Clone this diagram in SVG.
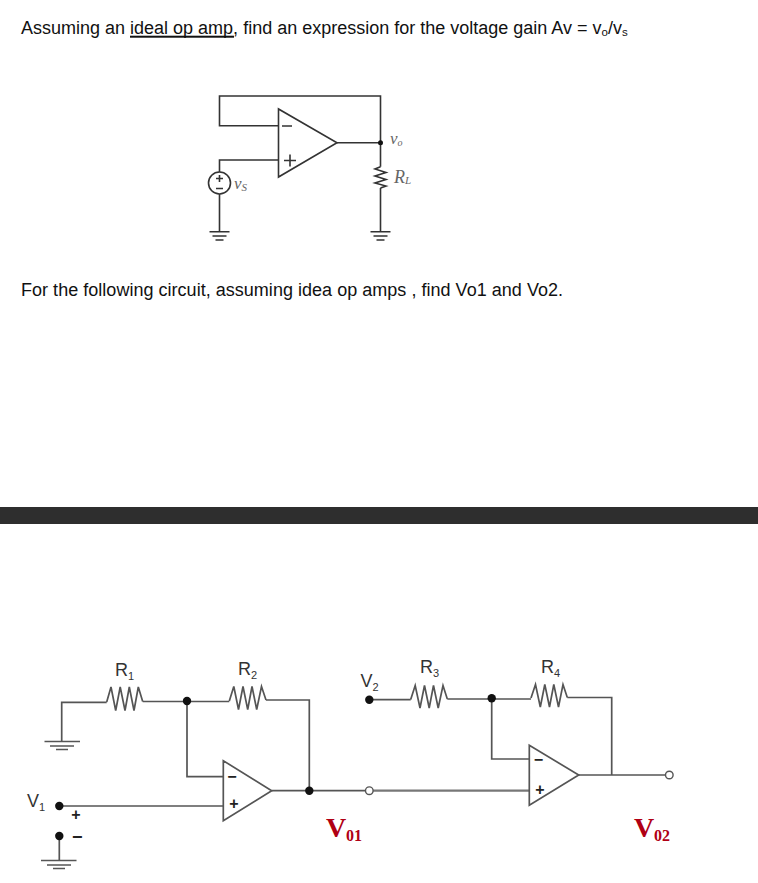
<svg xmlns="http://www.w3.org/2000/svg" width="758" height="883" viewBox="0 0 758 883">
<style>
.t{font-family:"Liberation Sans",Arial,sans-serif;font-size:18px;fill:#111}
.w{fill:none;stroke:#333;stroke-width:1.6;stroke-linejoin:miter}
.w2{fill:none;stroke:#555;stroke-width:1.7}
.m{font-family:"Liberation Serif",serif;font-style:italic;fill:#666}
.l{font-family:"Liberation Sans",Arial,sans-serif;fill:#333;font-size:18px}
.s{font-size:11px}
.r{font-family:"Liberation Serif",serif;font-weight:bold;fill:#b00014;font-size:28px}
.r2{font-size:16px}
.p{font-family:"Liberation Sans",Arial,sans-serif;font-weight:bold;fill:#222;font-size:16px;text-anchor:middle}
.d{fill:#111}
.o{fill:#fff;stroke:#555;stroke-width:1.4}
</style>
<rect width="758" height="883" fill="#fff"/>
<g id="text-1"><text class="t" x="21" y="34">Assuming an ideal op amp, find an expression for the voltage gain Av = v<tspan font-size="11.500" dy="2">o</tspan><tspan dy="-2">/v</tspan><tspan font-size="11.500" dy="2">s</tspan></text><rect x="130" y="35.700" width="104" height="2" fill="#111"/></g>
<g id="text-2"><text class="t" x="21" y="296" textLength="542" lengthAdjust="spacing">For the following circuit, assuming idea op amps , find Vo1 and Vo2.</text></g>
<rect id="band" x="0" y="507" width="758" height="17" fill="#2e2e2e"/>

<g id="connectors">
<path class="w" d="M278.500 125.700H219.500V96H380.500V142.700M337 142.700H380.500V166.700M380.500 188V231.700M278.500 160H219.500V172M219.500 194V231.700"/>
<path class="w2" d="M61.700 741V702.300H106.700M142.700 701.500H229.300M266 700H309.300V790.700M187 701V776.700H223.300M59.300 806H223.300M59.300 836V860M271.700 790.700H369.300M369.300 699.700H410.700M447.300 699H531M567.300 697.500H611.700V775M491.700 698.300V759H529.300M578.700 775H669.300"/>
<path d="M369.300 790.700H529.300" fill="none" stroke="#777" stroke-width="2.200"/>
</g>

<g id="opamp-a"><path class="w" d="M278.500 109V177L337 142.700Z" fill="#fff"/><path class="w" d="M282 126H292M284 160.500H296M290 154.500V166.500"/></g>
<g id="node-vo"><circle class="d" cx="380.500" cy="142.700" r="2.500"/><text class="m" x="390" y="144" font-size="17">v<tspan font-size="10" dy="2">o</tspan></text></g>
<g id="source-vs"><circle class="w" cx="219.500" cy="183" r="11"/><path class="w" d="M216 178.500H223M219.500 175V182M216 188.500H223" stroke-width="1.200"/><text class="m" x="234" y="189" font-size="17">v<tspan font-size="11" dy="2">S</tspan></text></g>
<g id="rl"><path class="w" d="M380.500 166.700L375 169L386 172.500L375 176L386 179.500L375 183L386 186L380.500 188"/><text class="m" x="394" y="183" font-size="18">R<tspan font-size="11" dy="1">L</tspan></text></g>
<g id="gnd-a"><path class="w" d="M209.500 231.700H229.500M212.500 236H226.500M215.500 240H223.500"/></g>
<g id="gnd-b"><path class="w" d="M370.500 231.700H390.500M373.500 236H387.500M376.500 240H384.500"/></g>

<g id="r1"><path class="w2" d="M106.700 702L111 687L115.700 710.500L120.200 687L125 710.500L129.300 687L134 710.500L138.300 687L142.700 701.500"/><text class="l" x="115" y="676">R<tspan class="s" dy="4">1</tspan></text></g>
<g id="r2"><path class="w2" d="M229.300 701L233.800 686.500L238.500 709.500L243 686.500L247.700 709.500L252 686.500L256.700 709.500L261.500 686.500L266 700"/><text class="l" x="238" y="675">R<tspan class="s" dy="4">2</tspan></text></g>
<g id="r3"><path class="w2" d="M410.700 699.500L415.200 685.500L420 708L424.500 685.500L429.200 708L433.500 685.500L438.200 708L443 685.500L447.300 699"/><text class="l" x="420" y="673">R<tspan class="s" dy="4">3</tspan></text></g>
<g id="r4"><path class="w2" d="M531 698L535.500 684.500L540.300 707L544.800 684.500L549.500 707L553.800 684.500L558.500 707L563 684.500L567.300 697.500"/><text class="l" x="541" y="673">R<tspan class="s" dy="4">4</tspan></text></g>

<g id="gnd-c"><path class="w2" d="M44.500 741.500H80M50 746H74M56 749.500H68" stroke-width="2"/></g>
<g id="gnd-d"><path class="w2" d="M41 860.500H76.500M47 865H71M53 868.500H65" stroke-width="2"/></g>

<g id="opamp-1"><path class="w2" d="M223.300 760.700V820.700L271.700 790.700Z" fill="#fff"/><text class="p" x="232" y="781.500">−</text><text class="p" x="234" y="808.500">+</text></g>
<g id="opamp-2"><path class="w2" d="M529.300 745.300V805.300L578.700 775Z" fill="#fff"/><text class="p" x="538.300" y="764.500">−</text><text class="p" x="540" y="794.500">+</text></g>

<g id="node-j1"><circle class="d" cx="187" cy="701" r="4.200"/></g>
<g id="node-j2"><circle class="d" cx="309.300" cy="790.700" r="4.200"/></g>
<g id="node-j3"><circle class="d" cx="491.700" cy="698.300" r="4.200"/></g>
<g id="node-v1"><circle class="d" cx="59.300" cy="806" r="4.200"/><text class="l" x="27" y="807">V<tspan class="s" dy="4">1</tspan></text><text class="p" x="76" y="819.500">+</text></g>
<g id="node-gnd"><circle class="d" cx="59.300" cy="836" r="4.200"/><text class="p" x="77.300" y="842.500" style="font-size:18px">−</text></g>
<g id="node-v2"><circle class="d" cx="369.300" cy="699.700" r="4.200"/><text class="l" x="360.500" y="687">V<tspan class="s" dy="4">2</tspan></text></g>
<g id="node-o1"><circle class="o" cx="369.300" cy="790.700" r="3.800"/></g>
<g id="node-o2"><circle class="o" cx="669.300" cy="775" r="3.800"/></g>
<g id="label-v01"><text class="r" x="326" y="837">V<tspan class="r2" dy="4" x="346">01</tspan></text></g>
<g id="label-v02"><text class="r" x="634" y="837">V<tspan class="r2" dy="4" x="654">02</tspan></text></g>
</svg>
